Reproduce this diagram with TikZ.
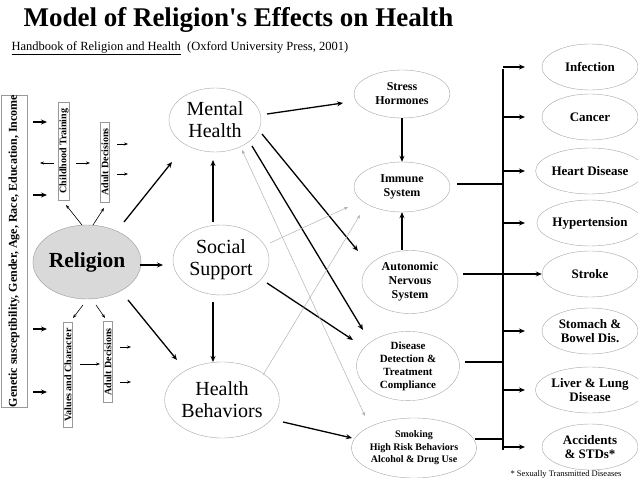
\documentclass[tikz,border=0pt]{standalone}
\usepackage{fontspec}
\setmainfont{Liberation Serif}
\usetikzlibrary{shapes.geometric,arrows.meta}
\begin{document}
\begin{tikzpicture}[x=1pt,y=-1pt,
  ell/.style={ellipse,draw=black!35,inner sep=0pt,align=center},
  outc/.style={ell,minimum width=96pt,minimum height=46pt,font=\bfseries\fontsize{13}{14}\selectfont},
  mid/.style={ell,font=\bfseries\fontsize{12}{14}\selectfont},
  big/.style={ell,minimum width=92pt,minimum height=64pt,font=\fontsize{20}{22}\selectfont},
  vbox/.style={draw=black!40,rotate=90,inner sep=1pt,font=\bfseries\fontsize{10}{11}\selectfont},
  thick arr/.style={-{Stealth[length=6pt,width=5pt]},line width=1.3pt},
  thin arr/.style={-{Stealth[length=4pt,width=3pt]},line width=0.6pt},
  gray arr/.style={-{Stealth[length=4pt,width=3pt]},line width=0.5pt,black!30}]
\useasboundingbox (0,0) rectangle (638,478);
\node[anchor=west,font=\bfseries\fontsize{27}{28}\selectfont] (title) at (20,20) {Model of Religion\textquotesingle s Effects on Health};
\node[anchor=west,font=\fontsize{12.5}{13}\selectfont] (sub) at (8,48) {\underline{Handbook of Religion and Health}\ \ (Oxford University Press, 2001)};
% left column
\node[draw=black!40,rotate=90,minimum width=303pt,minimum height=26pt,inner sep=0pt,font=\bfseries\fontsize{12}{13}\selectfont] (gen) at (14,251) {Genetic susceptibility, Gender, Age, Race, Education, Income};
\node[vbox,minimum width=98pt] (ct) at (64,151) {Childhood Training};
\node[vbox,minimum width=80pt] (ad1) at (105,162) {Adult Decisions};
\node[vbox,minimum width=105pt] (vc) at (68,375) {Values and Character};
\node[vbox,minimum width=81pt] (ad2) at (108,362) {Adult Decisions};
\node[ell,fill=black!15,draw=black!40,minimum width=104pt,minimum height=74pt,font=\bfseries\fontsize{21.5}{23}\selectfont] (rel) at (87,262) {Religion};
\foreach \y in {122,195,329,392} \draw[thick arr] (33,\y) -- (47,\y);
\draw[thin arr] (54,163) -- (40,163);
\draw[thin arr] (76,163) -- (90,163);
\draw[thin arr] (80,364) -- (100,364);
\foreach \y in {144,174} \draw[thin arr] (117,\y) -- (128,\y);
\foreach \y in {347,382} \draw[thin arr] (120,\y) -- (131,\y);
\draw[thin arr] (82,225) -- (66,205);
\draw[thin arr] (93,225) -- (104,208);
\draw[thin arr] (83,305) -- (73,318);
\draw[thin arr] (96,305) -- (105,318);
% middle
\node[big] (mh) at (215,120) {Mental\\Health};
\node[big,minimum width=96pt,minimum height=70pt] (ss) at (221,260) {Social\\Support};
\node[big,minimum width=100pt,minimum height=76pt] (hb) at (222,400) {Health\\Behaviors};
\draw[thick arr] (124,222) -- (172,162);
\draw[thick arr] (140,265) -- (163,265);
\draw[thick arr] (128,300) -- (177,360);
\draw[thick arr] (213,222) -- (213,160);
\draw[thick arr] (213,302) -- (213,362);
% mechanisms
\node[mid,minimum width=96pt,minimum height=48pt] (sh) at (402,94) {Stress\\Hormones};
\node[mid,minimum width=96pt,minimum height=50pt] (im) at (402,187) {Immune\\System};
\node[mid,minimum width=96pt,minimum height=63pt] (an) at (410,282) {Autonomic\\Nervous\\System};
\node[mid,minimum width=103pt,minimum height=68pt,font=\bfseries\fontsize{11}{13}\selectfont] (dd) at (408,366) {Disease\\Detection \&\\Treatment\\Compliance};
\node[mid,minimum width=112pt,minimum height=60pt,font=\bfseries\fontsize{10}{12.5}\selectfont] (sm) at (414,448) {Smoking\\High Risk Behaviors\\Alcohol \& Drug Use};
\draw[thick arr] (sh) -- (im);
\draw[thick arr] (402,250) -- (im);
\draw[thick arr] (267,114) -- (343,103);
\draw[thick arr] (262,134) -- (358,251);
\draw[thick arr] (252,146) -- (363,330);
\draw[thick arr] (267,283) -- (353,340);
\draw[thick arr] (283,422) -- (352,438);
\draw[gray arr] (270,243) -- (348,207);
\draw[gray arr] (263,375) -- (360,215);
\draw[gray arr,{Stealth[length=4pt,width=3pt]}-{Stealth[length=4pt,width=3pt]}] (242,150) -- (365,416);
% outcomes
\coordinate (bt) at (503,69);
\coordinate (bb) at (503,450);
\draw[line width=1.3pt] (bt) -- (bb);
\foreach \n/\t/\y in {inf/Infection/67,can/Cancer/117,hd/Heart Disease/171,hy/Hypertension/223,st/Stroke/274,sb/{Stomach \&\\Bowel Dis.}/331,ll/{Liver \& Lung\\Disease}/390,ac/{Accidents\\\& STDs*}/447}{
  \node[outc] (\n) at (590,\y) {\t};
}
\foreach \y in {67,117,171,223,331,390,447} \draw[thick arr] (503,\y) -- (525,\y);
\draw[line width=1.3pt] (457,184) -- (503,184);
\draw[thick arr] (463,274) -- (st);
\draw[line width=1.3pt] (465,362) -- (503,362);
\draw[line width=1.3pt] (475,439) -- (503,439);
\node[anchor=west,font=\fontsize{8.5}{9}\selectfont] (fn) at (507,474) {* Sexually Transmitted Diseases};
\end{tikzpicture}
\end{document}
